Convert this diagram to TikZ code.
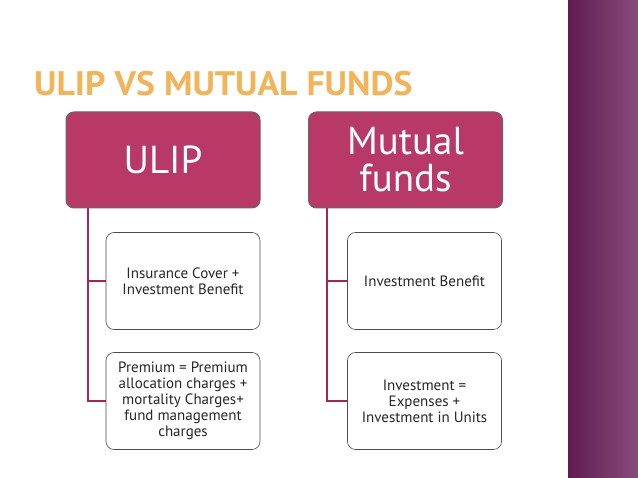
\documentclass[tikz,border=0pt]{standalone}
\usepackage{fontspec}
\setmainfont{PT Sans}
\begin{document}
\begin{tikzpicture}[x=1pt,y=-1pt,
  parent/.style={draw=black!60,line width=1pt,fill=parentc,rounded corners=8pt,minimum width=194pt,minimum height=96pt,text=white,font=\fontsize{39}{37}\selectfont,align=center,inner sep=0pt},
  child/.style={draw=black!70,line width=0.6pt,fill=white,rounded corners=8pt,minimum width=154pt,minimum height=97pt,font=\fontsize{15}{16}\selectfont,align=center,inner sep=2pt,text=black!85},
  conn/.style={draw=linec,line width=2pt}]
\definecolor{parentc}{HTML}{B83866}
\definecolor{linec}{HTML}{A3284F}
\definecolor{stripc}{HTML}{6A1F5A}
\definecolor{titlec}{HTML}{F2B45A}
\useasboundingbox (0,0) rectangle (638,478);
\fill[white] (0,0) rectangle (638,478);
\shade[left color=stripc!90!black,right color=stripc!80!white] (568,0) rectangle (638,478);
\node[anchor=west,text=titlec,font=\bfseries\fontsize{34}{34}\selectfont,inner sep=0pt,xscale=1.05] (title) at (34,84) {ULIP VS MUTUAL FUNDS};
\node[parent] (p1) at (163,160) {ULIP};
\node[parent] (p2) at (405.5,160) {Mutual\\funds};
\node[child] (a1) at (183,281) {Insurance Cover +\\Investment Benefit};
\node[child] (a2) at (183,401) {Premium = Premium\\allocation charges +\\mortality Charges+\\fund management\\charges};
\node[child] (b1) at (424.5,281) {Investment Benefit};
\node[child] (b2) at (424.5,401) {Investment =\\Expenses +\\Investment in Units};
\coordinate (l1) at (88,208);
\coordinate (l2) at (327,208);
\draw[conn] (l1) |- (a1.west);
\draw[conn] (l1) |- (a2.west);
\draw[conn] (l2) |- (b1.west);
\draw[conn] (l2) |- (b2.west);
\end{tikzpicture}
\end{document}
